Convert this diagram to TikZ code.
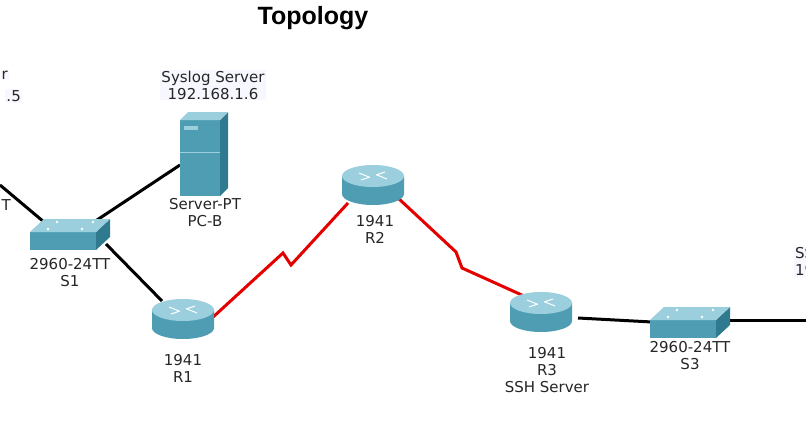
\documentclass[tikz,border=0pt]{standalone}
\usepackage{fontspec}
\setmainfont{DejaVu Sans}
\setsansfont{Liberation Sans}
\definecolor{dev}{HTML}{4E9DB2}
\definecolor{devtop}{HTML}{9CCFDD}
\definecolor{devside}{HTML}{2F7A8E}
\begin{document}
\begin{tikzpicture}[x=1pt,y=-1pt,
  lbl/.style={font=\fontsize{15}{17}\selectfont,text=black!85,inner sep=1pt},
  eth/.style={line width=3pt,black},
  ser/.style={line width=3pt,red!90!black},
  router/.pic={
    \fill[dev] (-31,0) -- (-31,18) arc[start angle=180,end angle=0,x radius=31,y radius=11] -- (31,0) -- cycle;
    \fill[devtop] (0,0) ellipse[x radius=31,y radius=11];
    \draw[white,line width=1pt] (-14,-3)--(-4,1) (14,3)--(4,-1) (-12,4)--(-3,1) (12,-4)--(3,-1);},
  switch/.pic={
    \fill[dev] (-40,0) rectangle (26,18);
    \fill[devside] (26,0) -- (40,-13) -- (40,5) -- (26,18) -- cycle;
    \fill[devtop] (-40,0) -- (-26,-13) -- (40,-13) -- (26,0) -- cycle;
    \foreach \p in {(-22,-3),(-13,-10),(12,-3),(23,-10)} \fill[white] \p circle (1.4);},
  server/.pic={
    \fill[dev] (-24,-30) rectangle (16,46);
    \fill[devside] (16,-30) -- (24,-38) -- (24,38) -- (16,46) -- cycle;
    \fill[devtop] (-24,-30) -- (-16,-38) -- (24,-38) -- (16,-30) -- cycle;
    \fill[devtop] (-20,-24) rectangle (-6,-20);
    \draw[devtop] (-24,2) -- (16,2);}]
\useasboundingbox (0,0) rectangle (806,423);
\clip (0,0) rectangle (806,423);
\fill[white] (0,0) rectangle (806,423);
\node[font=\sffamily\bfseries\fontsize{25}{27}\selectfont] (title) at (313,18) {Topology};
% edge label fragments
\node[lbl,fill=blue!3,anchor=east] (pca) at (9,75) {r};
\node[lbl,fill=blue!3,anchor=east] (pcb) at (22,96) {.5};
\node[lbl,anchor=east] (pcc) at (12,205) {T};
\coordinate (lft) at (0,185);
\coordinate (rgt) at (806,320);
% labels
\node[lbl,fill=blue!3,align=center] (syl) at (213,85) {Syslog Server\\192.168.1.6};
\node[lbl,align=center] (srvl) at (205,213) {Server-PT\\PC-B};
\node[lbl,align=center] (s1l) at (70,273) {2960-24TT\\S1};
\node[lbl,align=center] (r1l) at (183,368) {1941\\R1};
\node[lbl,align=center] (r2l) at (375,229) {1941\\R2};
\node[lbl,align=center] (r3l) at (547,370) {1941\\R3\\SSH Server};
\node[lbl,align=center] (s3l) at (690,356) {2960-24TT\\S3};
\node[lbl,fill=blue!3,anchor=west,align=left] (ssl) at (794,262) {SS\\19};
% links
\draw[eth] (lft) -- (44,222);
\draw[eth] (94,222) -- (180,165);
\draw[eth] (106,244) -- (162,301);
\draw[ser] (212,318) -- (283,253) -- (291,265) -- (348,203);
\draw[ser] (398,198) -- (456,252) -- (462,268) -- (524,296);
\draw[eth] (578,318) -- (652,322);
\draw[eth] (728,320) -- (rgt);
% devices
\pic (srv) at (204,150) {server};
\pic (s1) at (70,232) {switch};
\pic (r1) at (183,310) {router};
\pic (r2) at (373,176) {router};
\pic (r3) at (541,303) {router};
\pic (s3) at (690,320) {switch};
\end{tikzpicture}
\end{document}
